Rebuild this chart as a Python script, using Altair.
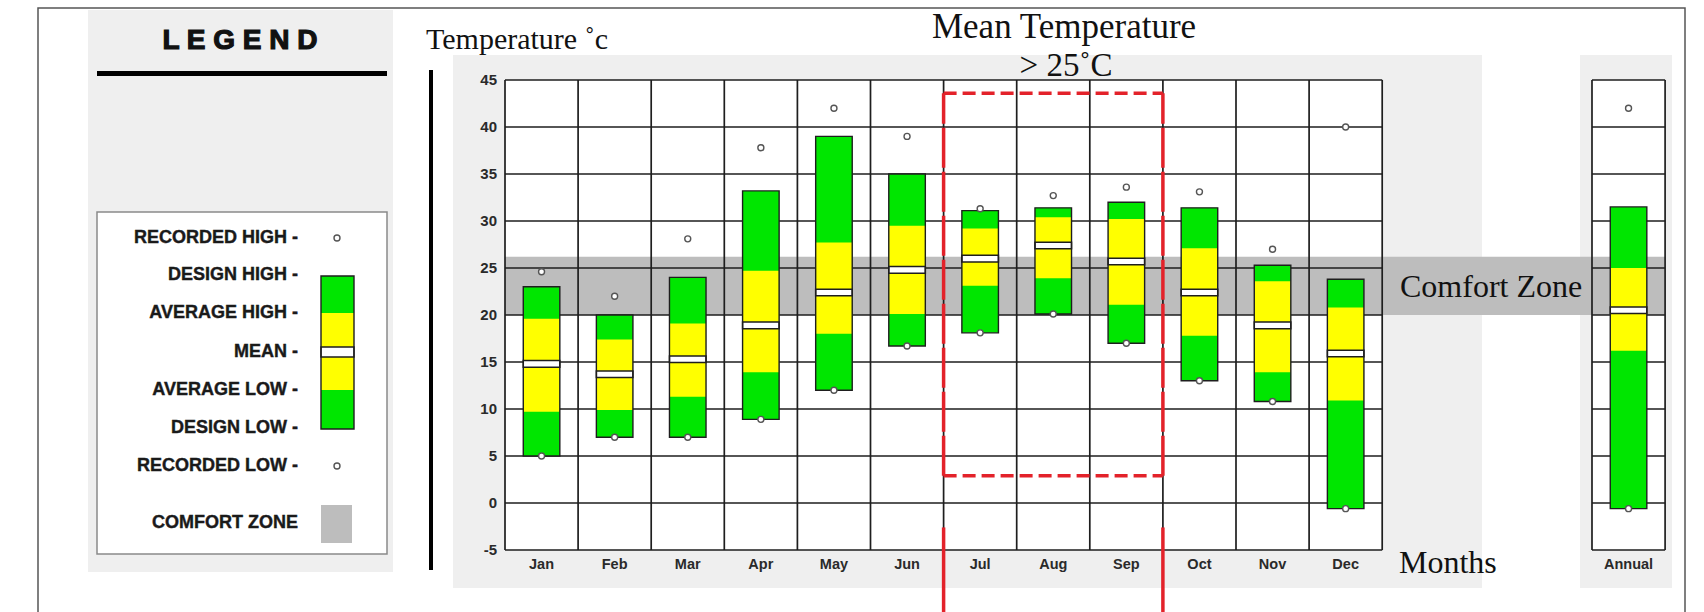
import altair as alt
import pandas as pd

# ---------------- data ----------------
periods = ["Jan", "Feb", "Mar", "Apr", "May", "Jun", "Jul", "Aug", "Sep",
           "Oct", "Nov", "Dec", "Annual"]
design_high = [23.0, 20.0, 24.0, 33.2, 39.0, 35.0, 31.1, 31.4, 32.0, 31.4, 25.3, 23.8, 31.5]
avg_high = [19.6, 17.4, 19.1, 24.7, 27.7, 29.5, 29.2, 30.4, 30.2, 27.1, 23.6, 20.8, 25.0]
mean_temp = [14.8, 13.7, 15.3, 18.9, 22.4, 24.8, 26.0, 27.4, 25.7, 22.4, 18.9, 15.9, 20.5]
avg_low = [9.7, 9.9, 11.3, 13.9, 18.0, 20.1, 23.1, 23.9, 21.1, 17.8, 13.9, 10.9, 16.2]
design_low = [5.0, 7.0, 7.0, 8.9, 12.0, 16.7, 18.1, 20.1, 17.0, 13.0, 10.8, -0.6, -0.6]
rec_high = [24.6, 22.0, 28.1, 37.8, 42.0, 39.0, 31.3, 32.7, 33.6, 33.1, 27.0, 40.0, 42.0]
rec_low = [5.0, 7.0, 7.0, 8.9, 12.0, 16.7, 18.1, 20.1, 17.0, 13.0, 10.8, -0.6, -0.6]

y_ticks = [-5, 0, 5, 10, 15, 20, 25, 30, 35, 40, 45]
comfort_zone = [20.0, 26.2]
hot_months = ["Jul", "Aug", "Sep"]
hot_box = [2.9, 43.6]
legend_labels = ["RECORDED HIGH -", "DESIGN HIGH -", "AVERAGE HIGH -", "MEAN -",
                 "AVERAGE LOW -", "DESIGN LOW -", "RECORDED LOW -", "COMFORT ZONE"]

# ---------------- layout ----------------
W, H = 1704, 612
PX0, COLW = 505.0, 73.1        # pixel of the Jan left edge, width of one column
PY45, PPD = 80.0, 9.4          # pixel of the 45 line, pixels per degree
ANN = 14.87                    # slot of the Annual column
GREEN, YELLOW, GRAYZ, PANEL = "#00e600", "#ffff00", "#bdbdbd", "#efefef"
LINE = "#1e1e1e"
RED = "#e3222a"
SERIF = "Liberation Serif"
SANS = "Liberation Sans"

xs = alt.Scale(domain=[-PX0 / COLW, (W - PX0) / COLW], nice=False, zero=False)
ys = alt.Scale(domain=[45 - (H - PY45) / PPD, 45 + PY45 / PPD], nice=False, zero=False)

slots = list(range(12)) + [ANN]
df = pd.DataFrame({
    "period": periods, "design_high": design_high, "avg_high": avg_high,
    "mean": mean_temp, "avg_low": avg_low, "design_low": design_low,
    "rec_high": rec_high, "rec_low": rec_low,
})
df["slot"] = slots
df["x1"] = df["slot"] + 0.25
df["x2"] = df["slot"] + 0.75
df["xc"] = df["slot"] + 0.5
df["mean_lo"] = df["mean"] - 0.35
df["mean_hi"] = df["mean"] + 0.35

panels = pd.DataFrame({"x": [0, ANN], "x2": [12, ANN + 1],
                       "y": [min(y_ticks)] * 2, "y2": [max(y_ticks)] * 2})
hgrid = pd.DataFrame([{"x": r.x, "x2": r.x2, "y": t}
                      for r in panels.itertuples() for t in y_ticks])
vgrid = pd.DataFrame({"x": list(range(13)) + [ANN, ANN + 1]})
vgrid["y"] = min(y_ticks)
vgrid["y2"] = max(y_ticks)
comfort = pd.DataFrame({"x": [0], "x2": [ANN + 1],
                        "y": [comfort_zone[0]], "y2": [comfort_zone[1]]})
hot_idx = [periods.index(m) for m in hot_months]
hx0, hx1 = min(hot_idx), max(hot_idx) + 1
hot_h = pd.DataFrame({"x": [hx0, hx0], "x2": [hx1, hx1], "y": hot_box})
hot_v = pd.DataFrame({"x": [hx0, hx1], "y": [hot_box[0]] * 2, "y2": [hot_box[1]] * 2})
hot_rules = pd.DataFrame({"x": [hx0, hx1]})
hot_rules["y"] = -2.6
hot_rules["y2"] = ys.domain[0]
ytick_df = pd.DataFrame({"v": y_ticks, "label": [str(t) for t in y_ticks]})


def X(f):
    return alt.X(f"{f}:Q", scale=xs, axis=None)


def Y(f):
    return alt.Y(f"{f}:Q", scale=ys, axis=None)


one = pd.DataFrame({"k": [0]})


def box(x0, x1, y0, y1, **mk):
    return alt.Chart(one).mark_rect(**mk).encode(
        x=alt.value(x0), x2=alt.value(x1), y=alt.value(y0), y2=alt.value(y1))


def txt(text, x, y, **mk):
    return alt.Chart(one).mark_text(text=text, **mk).encode(x=alt.value(x), y=alt.value(y))


layers = []
# backgrounds
layers.append(box(88, 393, 10, 572, fill=PANEL))
layers.append(box(453, 1482, 55, 588, fill=PANEL))
layers.append(box(1580, 1672, 55, 588, fill=PANEL))
# plot panels
layers.append(alt.Chart(panels).mark_rect(fill="white").encode(
    x=X("x"), x2="x2", y=Y("y"), y2="y2"))
# comfort zone band
layers.append(alt.Chart(comfort).mark_rect(fill=GRAYZ).encode(
    x=X("x"), x2="x2", y=Y("y"), y2="y2"))
# grid
layers.append(alt.Chart(hgrid).mark_rule(color=LINE, strokeWidth=1.7).encode(
    x=X("x"), x2="x2", y=Y("y")))
layers.append(alt.Chart(vgrid).mark_rule(color=LINE, strokeWidth=1.7).encode(
    x=X("x"), y=Y("y"), y2="y2"))
# tick labels
layers.append(alt.Chart(ytick_df).mark_text(
    font=SANS, fontSize=15, fontWeight="bold", align="right", baseline="middle",
    color="#2a2a2a").encode(x=alt.value(PX0 - 8), y=Y("v"), text="label:N"))
layers.append(alt.Chart(df).mark_text(
    font=SANS, fontSize=14.5, fontWeight="bold", align="center", baseline="middle",
    color="#2a2a2a").encode(x=X("xc"), y=alt.value(565), text="period:N"))
# bars
layers.append(alt.Chart(df).mark_rect(fill=GREEN).encode(
    x=X("x1"), x2="x2", y=Y("design_low"), y2="design_high"))
layers.append(alt.Chart(df).mark_rect(fill=YELLOW).encode(
    x=X("x1"), x2="x2", y=Y("avg_low"), y2="avg_high"))
layers.append(alt.Chart(df).mark_rect(fill="white", stroke=LINE, strokeWidth=1.5).encode(
    x=X("x1"), x2="x2", y=Y("mean_lo"), y2="mean_hi"))
layers.append(alt.Chart(df).mark_rect(fillOpacity=0, stroke=LINE, strokeWidth=1.4).encode(
    x=X("x1"), x2="x2", y=Y("design_low"), y2="design_high"))
# recorded extremes
for col in ["rec_high", "rec_low"]:
    layers.append(alt.Chart(df).mark_point(shape="circle", filled=True, fill="white",
                                           stroke="#555555", strokeWidth=1.4, size=36,
                                           opacity=1).encode(x=X("xc"), y=Y(col)))
# hot months highlight
layers.append(alt.Chart(hot_h).mark_rule(color=RED, strokeWidth=3.5,
                                         strokeDash=[13, 6]).encode(
    x=X("x"), x2="x2", y=Y("y")))
layers.append(alt.Chart(hot_v).mark_rule(color=RED, strokeWidth=3.5,
                                         strokeDash=[40, 4]).encode(
    x=X("x"), y=Y("y"), y2="y2"))
layers.append(alt.Chart(hot_rules).mark_rule(color=RED, strokeWidth=3.5).encode(
    x=X("x"), y=Y("y"), y2="y2"))

# frame & axis bar
layers.append(box(38, 1685, 8, 650, fillOpacity=0, stroke="#555555", strokeWidth=1.5))
layers.append(box(429, 433, 70, 570, fill="black"))

# texts
layers.append(txt("Temperature ˚c", 426, 49, font=SERIF, fontSize=30, align="left",
                  baseline="alphabetic", color="#111111"))
layers.append(txt("Mean Temperature", 1064, 38, font=SERIF, fontSize=35, align="center",
                  baseline="alphabetic", color="#111111"))
layers.append(txt("> 25˚C", 1066, 76, font=SERIF, fontSize=33, align="center",
                  baseline="alphabetic", color="#111111"))
layers.append(txt("Comfort Zone", 1400, 297, font=SERIF, fontSize=32, align="left",
                  baseline="alphabetic", color="#111111"))
layers.append(txt("Months", 1399, 573, font=SERIF, fontSize=32, align="left",
                  baseline="alphabetic", color="#111111"))

# legend
layers.append(txt("L E G E N D", 240, 41, font=SANS, fontSize=28, fontWeight="bold",
                  align="center", baseline="middle", color="#111111",
                  stroke="#111111", strokeWidth=1.2))
layers.append(box(97, 387, 71, 76, fill="black"))
layers.append(box(97, 387, 212, 554, fill="white", stroke="#8a8a8a", strokeWidth=1.5))
legend_row_y = [238, 275, 313, 352, 390, 428, 466, 523]
for lab, yy in zip(legend_labels, legend_row_y):
    layers.append(txt(lab, 298, yy, font=SANS, fontSize=18, fontWeight="bold",
                      align="right", baseline="middle", color="#1a1a1a",
                      stroke="#1a1a1a", strokeWidth=0.4))
layers.append(box(321, 354, 276, 429, fill=GREEN))
layers.append(box(321, 354, 313, 390, fill=YELLOW))
layers.append(box(321, 354, 347, 357, fill="white", stroke=LINE, strokeWidth=1.4))
layers.append(box(321, 354, 276, 429, fillOpacity=0, stroke=LINE, strokeWidth=1.4))
for yy in (legend_row_y[0], legend_row_y[6]):
    layers.append(alt.Chart(one).mark_point(shape="circle", filled=True, fill="white",
                                            stroke="#555555", strokeWidth=1.4, size=36,
                                            opacity=1).encode(x=alt.value(337), y=alt.value(yy)))
layers.append(box(321, 352, 505, 543, fill=GRAYZ))

chart = alt.layer(*layers).properties(
    width=W, height=H, padding=0,
    autosize=alt.AutoSizeParams(type="none"),
    background="white",
).configure_view(stroke=None)

chart.save("out.html", embed_options={"renderer": "svg", "actions": False})
